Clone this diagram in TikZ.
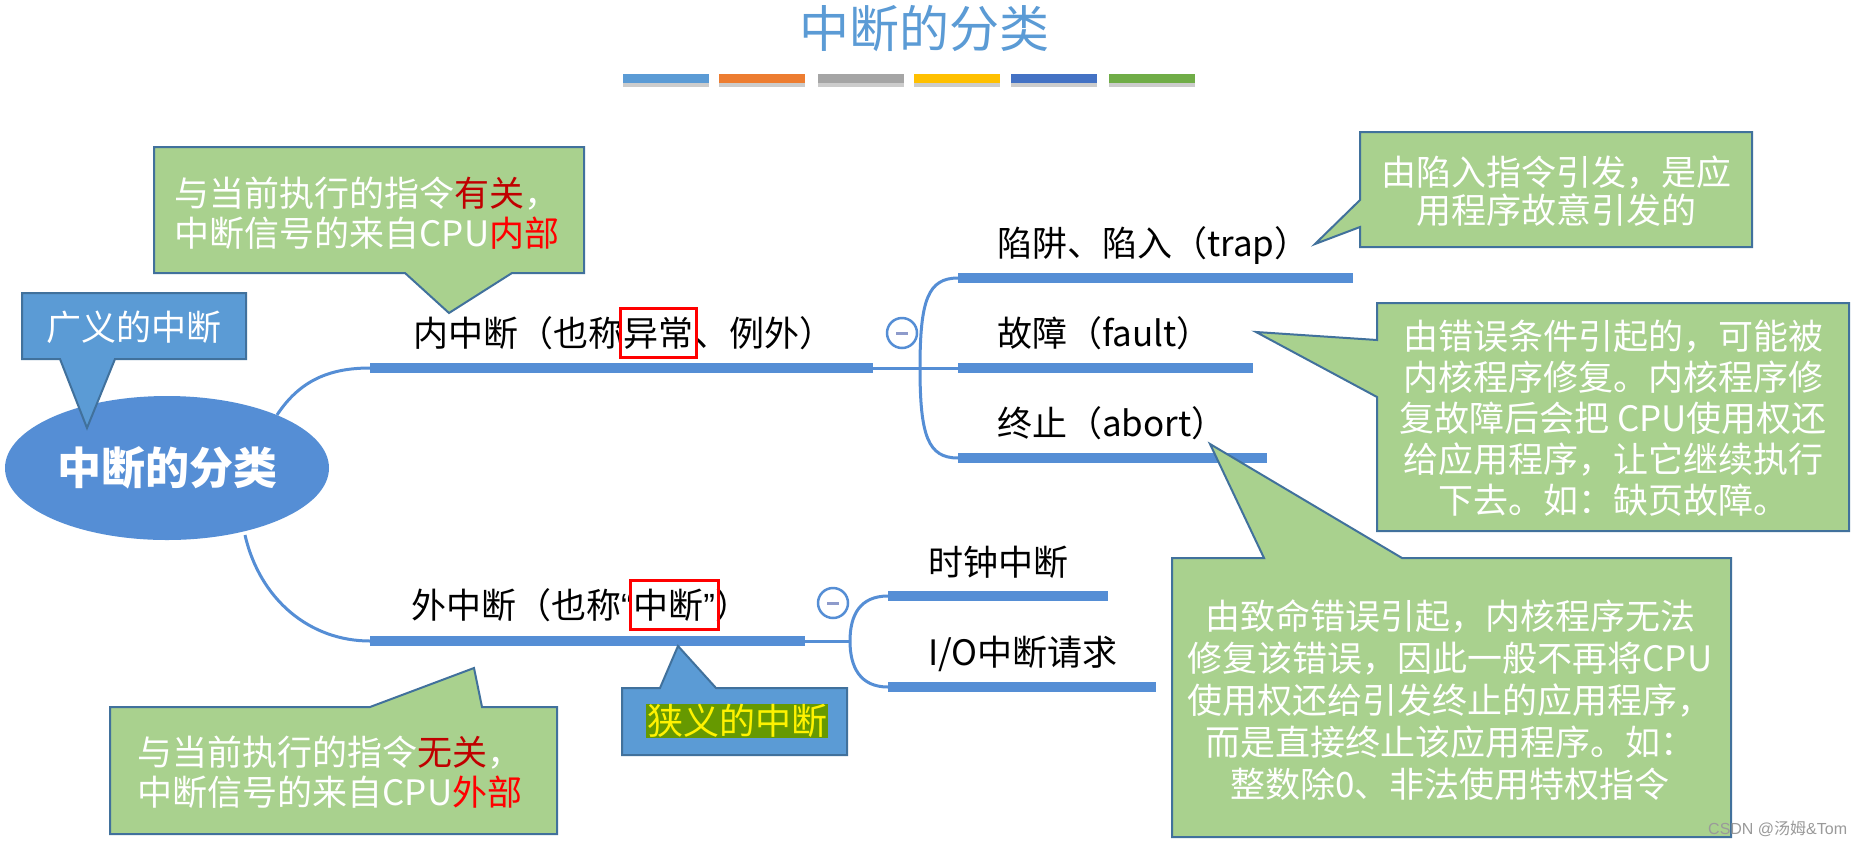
\documentclass[tikz,border=0pt]{standalone}
\usepackage{fontspec}
\newfontfamily\cjk{Noto Sans CJK SC}
\newfontfamily\lat{Liberation Sans}
\usetikzlibrary{fit,shadows,shapes.geometric}
\definecolor{lineblue}{HTML}{558ED5}
\definecolor{titleblue}{HTML}{5B9BD5}
\definecolor{cgreen}{HTML}{A9D18E}
\definecolor{cborder}{HTML}{41719C}
\definecolor{cblue}{HTML}{5B9BD5}
\definecolor{ellblue}{HTML}{558ED5}
\definecolor{dkred}{HTML}{C00000}
\definecolor{hlgreen}{HTML}{669900}
\definecolor{foldmark}{HTML}{8E9BCB}
\definecolor{wmgray}{HTML}{9A9A9A}
\definecolor{bc1}{HTML}{5B9BD5}
\definecolor{bc2}{HTML}{ED7D31}
\definecolor{bc3}{HTML}{A5A5A5}
\definecolor{bc4}{HTML}{FFC000}
\definecolor{bc5}{HTML}{4472C4}
\definecolor{bc6}{HTML}{70AD47}
\begin{document}
\begin{tikzpicture}[x=1pt,y=-1pt,
  mmbar/.style={draw=lineblue,line width=10},
  mmsub/.style={draw=lineblue,line width=9.5},
  mmthin/.style={draw=lineblue,line width=3},
  lbl/.style={font=\cjk\fontsize{35}{42}\selectfont,inner sep=0,anchor=base west},
  ctext/.style={font=\cjk\fontsize{35}{40}\selectfont,text=white,align=center,inner sep=0},
  callgreen/.style={fill=cgreen,draw=cborder,line width=2},
  callblue/.style={fill=cblue,draw=cborder,line width=2},
  fold/.style={circle,draw=lineblue,line width=2.5,fill=white,minimum size=30,inner sep=0},
  foldbar/.style={draw=foldmark,line width=3},
  redbox/.style={draw=red,line width=3,inner xsep=3,inner ysep=8},
  tbar/.style={minimum width=86,minimum height=9,inner sep=0,draw=none,
    drop shadow={shadow xshift=0pt,shadow yshift=-4pt,opacity=0.2,fill=black}}]
\useasboundingbox (0,0) rectangle (1857,847);
\fill[white] (0,0) rectangle (1857,847);

% title
\node[font=\cjk\fontsize{50}{50}\selectfont,text=titleblue] (title) at (924,29) {中断的分类};
\node[tbar,fill=bc1] (b1) at (666,78.5) {};
\node[tbar,fill=bc2] (b2) at (762,78.5) {};
\node[tbar,fill=bc3] (b3) at (861,78.5) {};
\node[tbar,fill=bc4] (b4) at (957,78.5) {};
\node[tbar,fill=bc5] (b5) at (1054,78.5) {};
\node[tbar,fill=bc6] (b6) at (1152,78.5) {};

% root
\node[ellipse,fill=ellblue,minimum width=324,minimum height=144,inner sep=0,
  font=\cjk\bfseries\fontsize{44}{44}\selectfont,text=white] (root) at (167,468) {中断的分类};

% coordinates
\coordinate (rA) at (277,415);
\coordinate (rB) at (245,535);
\coordinate (inS) at (370,368);
\coordinate (inE) at (873,368);
\coordinate (inJ) at (920,368);
\coordinate (trS) at (958,278);
\coordinate (trE) at (1353,278);
\coordinate (faS) at (958,368);
\coordinate (faE) at (1253,368);
\coordinate (abS) at (958,458);
\coordinate (abE) at (1267,458);
\coordinate (exS) at (370,641);
\coordinate (exE) at (805,641);
\coordinate (exJ) at (850,641);
\coordinate (ckS) at (888,596);
\coordinate (ckE) at (1108,596);
\coordinate (ioS) at (888,687);
\coordinate (ioE) at (1156,687);

% connectors
\draw[mmthin] (rA) .. controls (300,380) and (330,368) .. (inS);
\draw[mmbar] (inS) -- (inE);
\draw[mmthin] (inE) -- (faS);
\draw[mmthin] (trS) .. controls (928,278) and (920,300) .. (inJ) .. controls (920,436) and (928,458) .. (abS);
\draw[mmsub] (trS) -- (trE);
\draw[mmsub] (faS) -- (faE);
\draw[mmsub] (abS) -- (abE);

\draw[mmthin] (rB) .. controls (260,600) and (310,641) .. (exS);
\draw[mmbar] (exS) -- (exE);
\draw[mmthin] (exE) -- (exJ);
\draw[mmthin] (ckS) .. controls (860,596) and (850,615) .. (exJ) .. controls (850,667) and (860,687) .. (ioS);
\draw[mmsub] (ckS) -- (ckE);
\draw[mmsub] (ioS) -- (ioE);

% fold markers
\node[fold] (f1) at (902,333) {};
\draw[foldbar] ([xshift=-6pt]f1.center) -- ([xshift=6pt]f1.center);
\node[fold] (f2) at (833,603) {};
\draw[foldbar] ([xshift=-6pt]f2.center) -- ([xshift=6pt]f2.center);

% labels
\node[lbl] (in1) at (413,346) {内中断（也称};
\node[lbl] (in2) at (in1.base east) {异常};
\node[lbl] (in3) at (in2.base east) {、例外）};
\node[redbox,fit=(in2)] (inbox) {};

\node[lbl] (ex1) at (411,618) {外中断（也称{\lat“}};
\node[lbl] (ex2) at (ex1.base east) {中断{\lat”}};
\node[lbl] (ex3) at (ex2.base east) {）};
\node[redbox,fit=(ex2)] (exbox) {};

\node[lbl] (tr) at (997,256) {陷阱、陷入（trap）};
\node[lbl] (fa) at (997,346) {故障（fault）};
\node[lbl] (ab) at (997,436) {终止（abort）};
\node[lbl] (ck) at (928,575) {时钟中断};
\node[lbl] (io) at (928,665) {I/O中断请求};

% callouts
\draw[callgreen] (154,147) -- (584,147) -- (584,273) -- (512,273) -- (449,313) -- (405,273) -- (154,273) -- cycle;
\node[ctext] (n1) at (367,213) {与当前执行的指令\textcolor{dkred}{有关}，\\中断信号的来自CPU\textcolor{red}{内部}};

\draw[callblue] (22,293) -- (246,293) -- (246,359) -- (115,359) -- (87,428) -- (60,359) -- (22,359) -- cycle;
\node[ctext] (n2) at (134,327) {广义的中断};

\draw[callgreen] (1360,132) -- (1752,132) -- (1752,247) -- (1360,247) -- (1360,227) -- (1315,244) -- (1360,200) -- cycle;
\node[ctext,font=\cjk\fontsize{35}{38}\selectfont] (n3) at (1556,191) {由陷入指令引发，是应\\用程序故意引发的};

\draw[callgreen] (1377,303) -- (1849,303) -- (1849,531) -- (1377,531) -- (1377,397) -- (1256,332) -- (1377,340) -- cycle;
\node[ctext,font=\cjk\fontsize{35}{41}\selectfont] (n4) at (1613,418) {由错误条件引起的，可能被\\内核程序修复。内核程序修\\复故障后会把 CPU使用权还\\给应用程序，让它继续执行\\下去。如：缺页故障。};

\draw[callgreen] (1172,558) -- (1264,558) -- (1210,444) -- (1402,558) -- (1731,558) -- (1731,837) -- (1172,837) -- cycle;
\node[ctext,font=\cjk\fontsize{35}{42}\selectfont] (n5) at (1450,700) {由致命错误引起，内核程序无法\\修复该错误，因此一般不再将CPU\\使用权还给引发终止的应用程序，\\而是直接终止该应用程序。如：\\整数除0、非法使用特权指令};

\draw[callgreen] (110,707) -- (370,707) -- (474,668) -- (482,707) -- (557,707) -- (557,834) -- (110,834) -- cycle;
\node[ctext] (n6) at (330,772) {与当前执行的指令\textcolor{dkred}{无关}，\\中断信号的来自CPU\textcolor{red}{外部}};

\draw[callblue] (622,688) -- (660,688) -- (678,646) -- (716,688) -- (847,688) -- (847,755) -- (622,755) -- cycle;
\node[fill=hlgreen,text=yellow,minimum width=182,minimum height=34,inner sep=0,
  font=\cjk\fontsize{36}{36}\selectfont] (n7) at (737,721) {狭义的中断};

% watermark
\node[font=\lat\fontsize{16}{16}\selectfont,text=wmgray,anchor=west,inner sep=0] (wm) at (1708,829) {CSDN @{\cjk 汤姆}\&Tom};
\end{tikzpicture}
\end{document}
